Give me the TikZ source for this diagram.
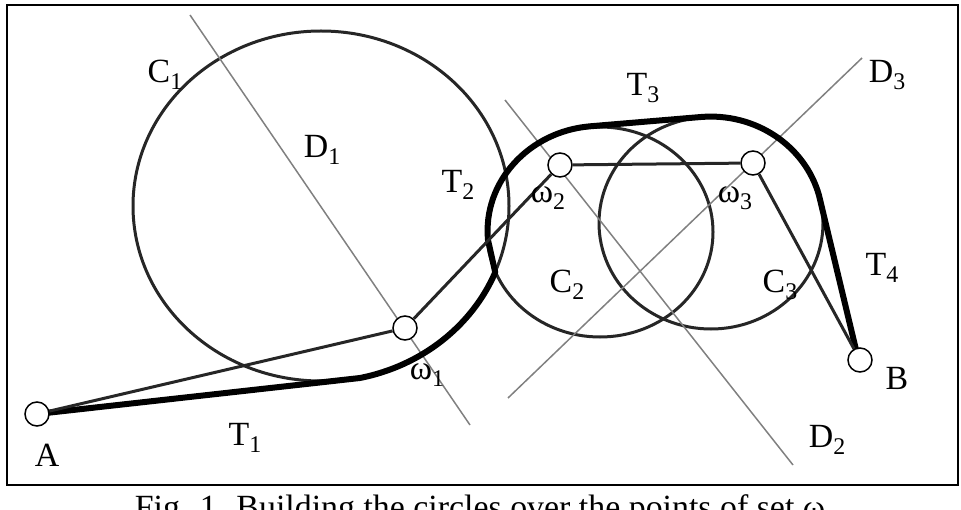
\documentclass[tikz,border=0pt]{standalone}
\usepackage{fontspec}
\setmainfont{Liberation Serif}
\newcommand{\lbl}[2]{#1\raisebox{-0.45ex}{\fontsize{24}{24}\selectfont #2}}
\begin{document}
\begin{tikzpicture}[x=1bp,y=-1bp,
  pt/.style={circle,draw,line width=1.5bp,fill=white,minimum size=24bp,inner sep=0pt},
  thin/.style={line width=3bp,black!85},
  thick/.style={line width=6bp,line join=round},
  aux/.style={line width=1.5bp,gray},
  tx/.style={font=\fontsize{34}{34}\selectfont,inner sep=0pt}]
\useasboundingbox (0,0) rectangle (961,510);
\clip (0,0) rectangle (961,510);
\draw[line width=2bp] (7,5) rectangle (958,485);
% circles
\draw[thin] (321,206) ellipse [x radius=188, y radius=175];
\draw[thin] (600,232) ellipse [x radius=113, y radius=105];
\draw[thin] (711,223) ellipse [x radius=112, y radius=106];
% auxiliary lines
\coordinate (d1a) at (190,15); \coordinate (d1b) at (470,425);
\coordinate (d2a) at (505,100); \coordinate (d2b) at (793,465);
\coordinate (d3a) at (508,398); \coordinate (d3b) at (862,58);
\draw[aux] (d1a) -- (d1b);
\draw[aux] (d2a) -- (d2b);
\draw[aux] (d3a) -- (d3b);
% thick path
\draw[thick] (37,414) -- (360,378)
  arc[start angle=78, end angle=22, x radius=188, y radius=175]
  -- (488,240)
  arc[start angle=175, end angle=265, x radius=113, y radius=105]
  -- (701,117)
  arc[start angle=265, end angle=345, x radius=112, y radius=106]
  -- (858,358);
% points
\node[pt] (A) at (37,414) {};
\node[pt] (w1) at (405,328) {};
\node[pt] (w2) at (560,165) {};
\node[pt] (w3) at (753,163) {};
\node[pt] (B) at (860,360) {};
\draw[thin] (A) -- (w1);
\draw[thin] (w1) -- (w2);
\draw[thin] (w2) -- (w3);
\draw[thin] (w3) -- (B);
% labels
\node[tx] at (165,75) {\lbl{C}{1}};
\node[tx] at (322,150) {\lbl{D}{1}};
\node[tx] at (458,185) {\lbl{T}{2}};
\node[tx] at (548,198) {\lbl{ω}{2}};
\node[tx] at (735,198) {\lbl{ω}{3}};
\node[tx] at (643,88) {\lbl{T}{3}};
\node[tx] at (887,75) {\lbl{D}{3}};
\node[tx] at (567,285) {\lbl{C}{2}};
\node[tx] at (780,285) {\lbl{C}{3}};
\node[tx] at (882,268) {\lbl{T}{4}};
\node[tx] at (897,378) {B};
\node[tx] at (427,375) {\lbl{ω}{1}};
\node[tx] at (47,455) {A};
\node[tx] at (245,438) {\lbl{T}{1}};
\node[tx] at (827,440) {\lbl{D}{2}};
\node[tx,anchor=base] at (480,518) {Fig. 1. Building the circles over the points of set ω};
\end{tikzpicture}
\end{document}
